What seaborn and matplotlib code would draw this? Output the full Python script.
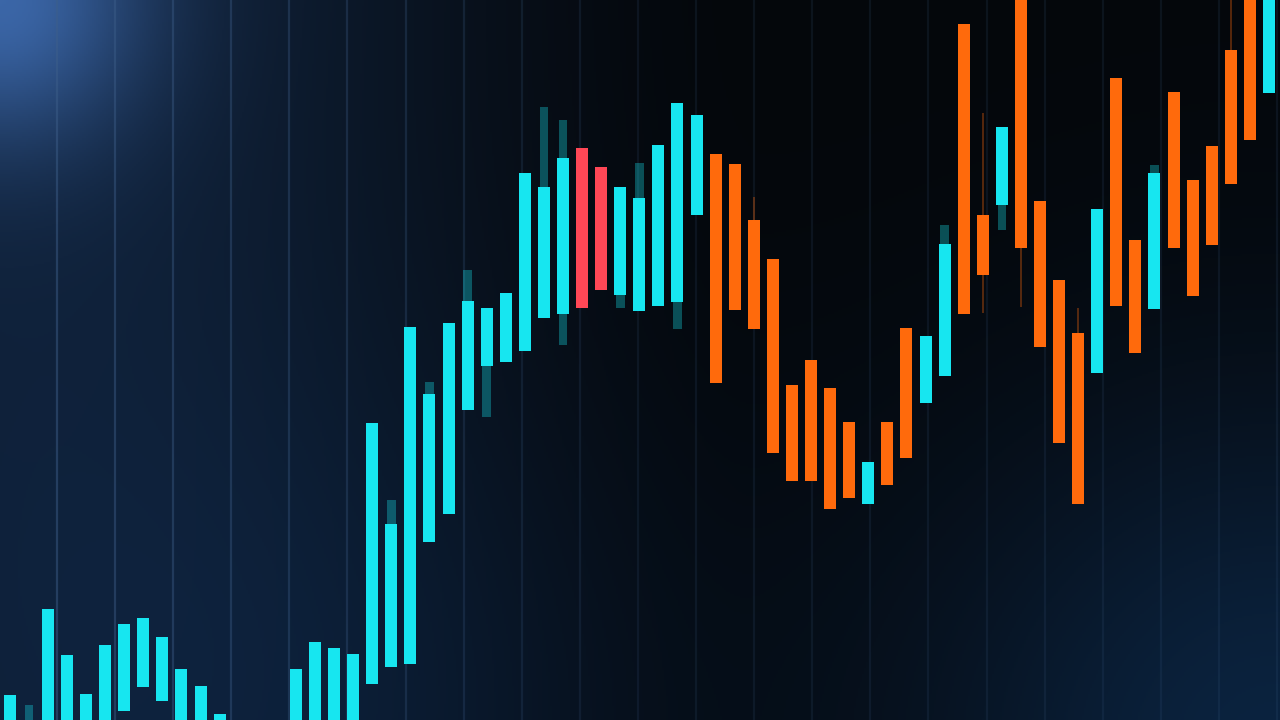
import numpy as np
import pandas as pd
import seaborn as sns
import matplotlib.pyplot as plt

# Candle values, price scale 0-100 (bottom to top of the frame).
# nan = no candle visible at that slot
opens = [-3, np.nan, -3, -3, -3, -3, 1.25, 4.6, 2.6, -3, -3, -3, np.nan, np.nan, np.nan,
         -3, -3, -3, -3, 5.0, 7.4, 7.8, 24.7, 28.6, 43.1, 49.2, 49.7, 51.25, 55.8, 56.4,
         79.4, 76.8, 59.0, 56.8, 57.5, 58.1, 70.1, 78.6, 77.2, 69.4, 64.0, 46.5, 50.0, 46.1,
         41.4, 30.0, 41.4, 54.4, 44.0, 47.8, 96.7, 70.1, 71.5, 102, 72.1, 61.1, 53.75, 48.2,
         89.2, 66.7, 57.1, 87.2, 75.0, 79.7, 93.1, 102, 87.1]
closes = [3.5, np.nan, 15.4, 9.0, 3.6, 10.4, 13.3, 14.2, 11.5, 7.1, 4.7, 0.8, np.nan, np.nan, np.nan,
          7.1, 10.8, 10.0, 9.2, 41.25, 27.2, 54.6, 45.3, 55.1, 58.2, 57.2, 59.3, 76.0, 74.0, 78.1,
          57.2, 59.7, 74.0, 72.5, 79.9, 85.7, 84.0, 46.8, 56.9, 54.3, 37.1, 33.2, 33.2, 29.3,
          30.8, 35.8, 32.6, 36.4, 53.3, 66.1, 56.4, 61.8, 82.4, 65.6, 51.8, 38.5, 30.0, 71.0,
          57.5, 51.0, 76.0, 65.6, 58.9, 66.0, 74.4, 80.6, 102]
highs = [3.5, 2.1, 15.4, 9.0, 3.6, 10.4, 13.3, 14.2, 11.5, 7.1, 4.7, 0.8, np.nan, np.nan, np.nan,
         7.1, 10.8, 10.0, 9.2, 41.25, 30.6, 54.6, 46.9, 55.1, 62.5, 57.2, 59.3, 76.0, 85.1, 83.3,
         79.4, 76.8, 74.0, 77.4, 79.9, 85.7, 84.0, 78.6, 77.2, 72.6, 64.0, 46.5, 50.0, 46.1,
         41.4, 35.8, 41.4, 54.4, 53.3, 68.75, 96.7, 84.3, 82.4, 102, 72.1, 61.1, 57.2, 71.0,
         89.2, 66.7, 77.1, 87.2, 75.0, 79.7, 102, 102, 102]
lows = [-3, -3, -3, -3, -3, -3, 1.25, 4.6, 2.6, -3, -3, -3, np.nan, np.nan, np.nan,
        -3, -3, -3, -3, 5.0, 7.4, 7.8, 24.7, 28.6, 43.1, 42.1, 49.7, 51.25, 55.8, 52.1,
        57.2, 59.7, 57.2, 56.8, 57.5, 54.3, 70.1, 46.8, 56.9, 54.3, 37.1, 33.2, 33.2, 29.3,
        30.8, 30.0, 32.6, 36.4, 44.0, 47.8, 56.4, 56.5, 68.1, 57.4, 51.8, 38.5, 30.0, 48.2,
        57.5, 51.0, 57.1, 65.6, 58.9, 66.0, 74.4, 80.6, 87.1]
kinds = (["up"] * 30 + ["red"] * 2 + ["up"] * 5 + ["down"] * 8 + ["up", "down", "down", "up", "up",
         "down", "down", "up", "down", "down", "down", "down", "up", "down", "down", "up",
         "down", "down", "down", "down", "down", "up"])

colors = {"up": "#17E6F0", "down": "#FF6A0C", "red": "#FF4756"}
wick_width = {"up": 0.45, "down": 0.12, "red": 0.12}

df = pd.DataFrame({"open": opens, "close": closes, "high": highs, "low": lows, "kind": kinds})
df["slot"] = np.arange(len(df))

sns.set_theme(style="dark")
plt.rcParams['font.family'] = ['DejaVu Sans']

fig = plt.figure(figsize=(12.8, 7.2), dpi=100)
ax = fig.add_axes([0, 0, 1, 1])
x_lo, x_hi = -0.51, 66.58
y_lo, y_hi = 0, 100

# background: navy on the left fading to near black, glows in the corners
u, v = np.meshgrid(np.linspace(0, 1, 640), np.linspace(0, 1, 360))
t = np.clip(u / 0.6, 0, 1)
t = t * t * (3 - 2 * t)
navy = np.array([17, 36, 62]) / 255
black = np.array([4, 7, 11]) / 255
bg = navy[None, None, :] * (1 - t[..., None]) + black[None, None, :] * t[..., None]
# darker toward bottom on the left
bg *= (1 - 0.25 * v * (1 - t))[..., None]
aspect = 16 / 9
d_tl = np.sqrt((u * aspect) ** 2 + v ** 2)
bg += np.exp(-(d_tl / 0.2) ** 2)[..., None] * (np.array([42, 66, 105]) / 255)
d_bl = np.sqrt(((u - 0.25) * aspect) ** 2 + ((v - 1.0) * 1.2) ** 2)
bg += np.exp(-(d_bl / 0.6) ** 2)[..., None] * (np.array([2, 10, 20]) / 255)
d_br = np.sqrt(((u - 1.0) * aspect) ** 2 + (v - 1.05) ** 2)
bg += np.exp(-(d_br / 0.5) ** 2)[..., None] * (np.array([7, 28, 52]) / 255)
ax.imshow(np.clip(bg, 0, 1), extent=[x_lo, x_hi, y_lo, y_hi], aspect="auto", zorder=0)

# faint vertical grid lines
for k in range(22):
    gx = 2.477 + 3.045 * k
    fade = np.clip(1 - gx / 45, 0.3, 1)
    ax.axvline(gx, color="#3E5F8A", alpha=0.5 * fade, lw=1.6, zorder=1)

# wicks (dim) and bodies
for kind, grp in df.dropna(subset=["high"]).groupby("kind"):
    ax.bar(grp["slot"], grp["high"] - grp["low"], bottom=grp["low"], width=wick_width[kind],
           color=colors[kind], alpha=0.32, linewidth=0, zorder=2)
bodies = df.dropna(subset=["open"])
for kind, grp in bodies.groupby("kind"):
    bot = grp[["open", "close"]].min(axis=1)
    top = grp[["open", "close"]].max(axis=1)
    ax.bar(grp["slot"], top - bot, bottom=bot, width=0.63,
           color=colors[kind], linewidth=0, zorder=3)

ax.set_xlim(x_lo, x_hi)
ax.set_ylim(y_lo, y_hi)
ax.axis("off")
fig.savefig("out.png", dpi=100)
